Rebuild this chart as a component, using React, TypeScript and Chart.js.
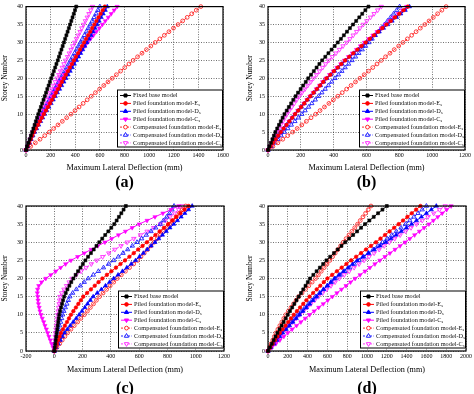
import React, { useEffect, useRef } from 'react';
import { Chart, registerables } from 'chart.js';
import { drawPoint } from 'chart.js/helpers';

Chart.register(...registerables);

const SERIF = "'Liberation Serif', 'Times New Roman', serif";
const X_TITLE = 'Maximum Lateral Deflection (mm)';
const Y_TITLE = 'Storey Number';

const STOREYS = [0,1,2,3,4,5,6,7,8,9,10,11,12,13,14,15,16,17,18,19,20,21,22,23,24,25,26,27,28,29,30,31,32,33,34,35,36,37,38,39,40];

const LABELS = [
  'Fixed base model',
  'Piled foundation model-Eₛ',
  'Piled foundation model-Dₛ',
  'Piled foundation model-Cₛ',
  'Compensated foundation model-Eₛ',
  'Compensated foundation model-Dₛ',
  'Compensated foundation model-Cₛ',
];

// ---- Panel (a)
const A_FIXED = [0,10,20,30,40,50,60,70,80,90,100,110,121,131,142,152,163,173,184,194,205,216,226,237,247,258,268,278,288,298,308,318,328,338,348,358,368,378,388,398,408];
const A_PILED_E = [0,13,26,39,52,65,81,97,113,129,145,162,178,195,211,228,244,260,276,292,308,324,341,357,374,390,406,423,439,456,472,489,505,522,538,555,572,589,606,623,640];
const A_PILED_D = [0,14,28,42,56,70,86,103,119,136,152,169,186,204,221,238,255,273,290,308,325,342,359,376,393,410,427,444,461,478,495,512,528,545,561,578,594,611,627,644,660];
const A_PILED_C = [0,12,25,37,50,62,77,91,106,120,135,150,166,181,197,212,228,243,259,274,290,310,330,350,370,390,412,434,456,478,500,524,548,572,596,620,644,668,692,716,740];
const A_COMP_E = [0,38,76,114,152,190,225,260,295,330,365,398,431,464,497,530,564,598,632,666,700,734,768,802,836,870,906,942,978,1014,1050,1087,1124,1161,1198,1235,1272,1309,1346,1383,1420];
const A_COMP_D = [0,12,24,36,48,60,74,88,102,116,130,145,160,175,190,205,221,236,252,267,283,299,315,330,346,362,378,394,410,426,442,458,474,490,506,522,538,553,569,584,600];
const A_COMP_C = [0,11,22,33,44,55,67,80,92,105,117,130,143,157,170,183,197,211,224,238,252,266,280,294,308,322,337,351,366,380,395,410,424,439,453,468,482,497,511,526,540];

// ---- Panel (b)
const B_FIXED = [0,9,18,27,36,45,56,67,78,89,100,114,127,141,154,168,183,199,214,230,245,262,279,296,313,330,349,368,387,406,425,444,462,481,499,518,537,556,574,593,612];
const B_PILED_E = [0,16,31,47,62,78,95,113,130,148,165,184,202,221,239,258,278,298,317,337,357,380,402,425,447,470,495,520,545,570,595,620,646,671,697,722,748,774,800,826,852];
const B_PILED_D = [0,16,31,47,62,78,96,113,131,148,166,185,204,222,241,260,280,300,320,340,360,383,406,428,451,474,499,524,550,575,600,626,652,678,704,730,756,783,809,836,862];
const B_PILED_C = [0,15,30,46,61,76,93,111,128,146,163,181,200,218,237,255,275,294,314,333,353,375,398,420,443,465,490,514,539,563,588,613,639,664,690,715,741,767,793,819,845];
const B_COMP_E = [0,30,60,90,120,150,178,206,234,262,290,317,344,371,398,425,452,479,506,533,560,586,612,638,664,690,716,743,769,796,822,849,875,902,928,955,981,1007,1033,1059,1085];
const B_COMP_D = [0,20,40,60,80,100,121,142,164,185,206,226,247,267,288,308,328,348,368,388,408,429,450,470,491,512,533,553,574,594,615,634,653,672,691,710,728,747,765,784,802];
const B_COMP_C = [0,10,21,31,42,52,65,77,90,102,115,130,145,160,175,190,207,225,242,260,277,296,314,333,351,370,392,414,435,457,479,499,519,540,560,580,602,624,646,668,690];

// ---- Panel (c)
const C_FIXED = [0,3,7,10,14,17,21,24,28,31,35,41,48,55,62,70,81,93,107,120,135,151,168,185,202,220,239,259,279,298,318,339,360,382,403,424,441,457,474,490,506];
const C_PILED_E = [0,9,19,28,38,47,61,75,90,104,118,135,153,170,188,205,232,259,286,313,340,372,404,436,468,500,531,562,593,624,655,685,715,745,775,805,834,863,892,921,950];
const C_PILED_D = [0,14,28,43,57,71,92,113,134,155,176,196,216,235,255,275,304,333,362,391,420,451,482,513,544,575,602,630,657,685,712,739,765,792,818,845,871,897,923,949,975];
const C_PILED_C = [0,-9,-19,-28,-38,-47,-56,-66,-75,-85,-94,-101,-107,-112,-115,-117,-120,-118,-110,-90,-60,-25,10,45,80,118,165,212,260,308,358,406,454,503,551,600,656,712,768,824,880];
const C_COMP_E = [0,19,38,56,75,94,118,141,165,188,212,234,255,277,298,320,345,370,395,420,445,474,503,532,561,590,613,636,660,683,706,728,750,772,794,816,839,861,884,906,929];
const C_COMP_D = [0,5,10,14,19,24,31,38,45,52,59,68,78,89,99,110,130,156,184,212,240,276,312,348,384,420,453,486,519,552,585,618,651,684,717,750,772,795,815,832,847];
const C_COMP_C = [0,2,3,5,6,8,11,14,18,21,24,27,30,34,37,40,52,68,86,105,125,155,190,225,262,300,342,385,428,472,515,562,609,656,703,750,785,818,850,879,906];

// ---- Panel (d)
const D_FIXED = [0,19,38,57,76,95,116,137,158,179,200,222,244,266,288,310,333,356,379,402,425,458,491,524,557,590,628,666,704,742,780,820,860,900,940,980,1024,1068,1112,1156,1200];
const D_PILED_E = [0,24,48,72,96,120,148,176,204,232,260,292,324,356,388,420,456,492,528,564,600,648,696,744,792,840,890,940,990,1040,1090,1136,1182,1228,1274,1320,1364,1408,1452,1496,1540];
const D_PILED_D = [0,30,60,90,120,150,184,218,252,286,320,354,388,422,456,490,526,562,598,634,670,716,762,808,854,900,958,1016,1074,1132,1190,1242,1294,1346,1398,1450,1500,1550,1600,1650,1700];
const D_PILED_C = [0,40,80,120,160,200,244,288,332,376,420,466,512,558,604,650,696,742,788,834,880,930,980,1030,1080,1130,1181,1232,1283,1334,1385,1433,1481,1529,1577,1625,1670,1715,1760,1805,1850];
const D_COMP_E = [0,16,32,48,64,80,100,120,140,160,180,206,232,258,284,310,344,378,412,446,480,509,538,567,596,625,652,679,706,733,760,789,818,847,876,905,932,959,986,1013,1040];
const D_COMP_D = [0,26,52,78,104,130,164,198,232,266,300,336,372,408,444,480,520,560,600,640,680,728,776,824,872,920,967,1014,1062,1109,1156,1203,1250,1296,1343,1390,1432,1474,1516,1558,1600];
const D_COMP_C = [0,28,56,84,112,140,176,212,248,284,320,358,396,434,472,510,552,594,636,678,720,770,820,870,920,970,1021,1072,1123,1174,1225,1280,1335,1390,1445,1500,1558,1616,1674,1732,1790];

const STYLES = [
  { color: '#000000', point: 'rect', rot: 0, filled: true, dash: [], r: 2.1 },
  { color: '#ff0000', point: 'circle', rot: 0, filled: true, dash: [], r: 1.8 },
  { color: '#0000ff', point: 'triangle', rot: 0, filled: true, dash: [], r: 2.4 },
  { color: '#ff00ff', point: 'triangle', rot: 180, filled: true, dash: [], r: 2.4 },
  { color: '#ff2a2a', point: 'circle', rot: 0, filled: false, dash: [3, 2], r: 1.9 },
  { color: '#1f1fff', point: 'triangle', rot: 0, filled: false, dash: [3, 2], r: 2.5 },
  { color: '#ff33ff', point: 'triangle', rot: 180, filled: false, dash: [3, 2], r: 2.5 },
];

const PANELS = [
  { tag: '(a)', left: 0, top: 0, xMin: 0, xMax: 1600, yW: 26, padR: 14, padT: 4, xH: 47, titlePadB: 24, yTitlePad: 0.5, tagY: 182,
    series: [A_FIXED, A_PILED_E, A_PILED_D, A_PILED_C, A_COMP_E, A_COMP_D, A_COMP_C] },
  { tag: '(b)', left: 237, top: 0, xMin: 0, xMax: 1200, yW: 31, padR: 9, padT: 4, xH: 47, titlePadB: 24, yTitlePad: 8.5, tagY: 182,
    series: [B_FIXED, B_PILED_E, B_PILED_D, B_PILED_C, B_COMP_E, B_COMP_D, B_COMP_C] },
  { tag: '(c)', left: 0, top: 197, xMin: -200, xMax: 1200, yW: 26, padR: 13, padT: 9, xH: 43, titlePadB: 19, yTitlePad: 0.5, tagY: 190.5,
    series: [C_FIXED, C_PILED_E, C_PILED_D, C_PILED_C, C_COMP_E, C_COMP_D, C_COMP_C] },
  { tag: '(d)', left: 237, top: 197, xMin: 0, xMax: 2000, yW: 31, padR: 8, padT: 9, xH: 43, titlePadB: 19, yTitlePad: 8.5, tagY: 190.5,
    series: [D_FIXED, D_PILED_E, D_PILED_D, D_PILED_C, D_COMP_E, D_COMP_D, D_COMP_C] },
];

const W = 237;
const H = 197;

const frameAndLegend = {
  id: 'frameAndLegend',
  afterDraw(chart: any) {
    const { ctx, chartArea } = chart;
    ctx.save();
    // plot frame
    ctx.strokeStyle = '#000';
    ctx.lineWidth = 1.2;
    ctx.setLineDash([]);
    ctx.strokeRect(chartArea.left, chartArea.top, chartArea.right - chartArea.left, chartArea.bottom - chartArea.top);

    // legend box
    const bw = 106;
    const bh = 58;
    const x0 = chartArea.right - bw;
    const y0 = chartArea.bottom - 2.5 - bh;
    ctx.fillStyle = '#ffffff';
    ctx.fillRect(x0, y0, bw, bh);
    ctx.strokeStyle = '#000';
    ctx.lineWidth = 1;
    ctx.strokeRect(x0 + 0.5, y0 + 0.5, bw - 1, bh - 1);

    chart.data.datasets.forEach((ds: any, i: number) => {
      const st = STYLES[i];
      const cy = y0 + 6 + i * 7.9;
      ctx.strokeStyle = st.color;
      ctx.lineWidth = 1;
      ctx.setLineDash(st.dash.length ? [2, 1.5] : []);
      ctx.beginPath();
      ctx.moveTo(x0 + 3, cy);
      ctx.lineTo(x0 + 14, cy);
      ctx.stroke();
      ctx.setLineDash([]);
      ctx.fillStyle = st.filled ? st.color : '#ffffff';
      ctx.strokeStyle = st.color;
      drawPoint(ctx, { pointStyle: st.point, rotation: st.rot, radius: st.r, borderWidth: st.filled ? 0.6 : 0.9 }, x0 + 8.5, cy);

      const label: string = ds.label;
      const hasSub = label.endsWith('ₛ');
      const main = hasSub ? label.slice(0, -1) : label;
      ctx.fillStyle = '#111';
      ctx.textBaseline = 'middle';
      ctx.textAlign = 'left';
      ctx.font = `6.3px ${SERIF}`;
      const tx = x0 + 16;
      ctx.fillText(main, tx, cy + 0.3);
      if (hasSub) {
        const mw = ctx.measureText(main).width;
        ctx.font = `4.3px ${SERIF}`;
        ctx.fillText('s', tx + mw + 0.2, cy + 1.8);
      }
    });
    ctx.restore();
  },
};

function Panel({ p }: { p: any }) {
  const ref = useRef<HTMLCanvasElement | null>(null);
  useEffect(() => {
    if (!ref.current) return;
    const datasets = p.series.map((vals: number[], i: number) => {
      const st = STYLES[i];
      return {
        label: LABELS[i],
        data: STOREYS.map((s, k) => ({ x: vals[k], y: s })),
        showLine: true,
        borderColor: st.color,
        borderWidth: 1,
        borderDash: st.dash,
        pointStyle: st.point,
        rotation: st.rot,
        pointRadius: st.r,
        pointBorderWidth: st.filled ? 0.6 : 0.9,
        pointBorderColor: st.color,
        pointBackgroundColor: st.filled ? st.color : 'rgba(255,255,255,0)',
        backgroundColor: st.color,
        clip: false,
        order: i,
      };
    });
    const chart = new Chart(ref.current, {
      type: 'scatter',
      data: { datasets },
      options: {
        animation: false,
        responsive: false,
        devicePixelRatio: 1,
        events: [],
        layout: { padding: { left: 0, right: p.padR, top: p.padT, bottom: 0 } },
        plugins: { legend: { display: false }, tooltip: { enabled: false } },
        scales: {
          x: {
            type: 'linear',
            min: p.xMin,
            max: p.xMax,
            afterFit: (s: any) => { s.height = p.xH; },
            ticks: { stepSize: 200, autoSkip: false, maxRotation: 0, padding: 2, color: '#000', font: { family: SERIF, size: 6 },
              callback: (v: any) => String(v) },
            grid: { color: 'rgba(0,0,0,0.7)', lineWidth: 0.8, drawTicks: false },
            border: { display: false, dash: [1, 1.5] },
            title: { display: true, text: X_TITLE, color: '#000', font: { family: SERIF, size: 8.2 }, padding: { top: 0, bottom: p.titlePadB } },
          },
          y: {
            type: 'linear',
            min: 0,
            max: 40,
            afterFit: (s: any) => { s.width = p.yW; },
            ticks: { stepSize: 5, padding: 3, color: '#000', font: { family: SERIF, size: 6 }, callback: (v: any) => String(v) },
            grid: { color: 'rgba(0,0,0,0.7)', lineWidth: 0.8, drawTicks: false },
            border: { display: false, dash: [1, 1.5] },
            title: { display: true, text: Y_TITLE, color: '#000', font: { family: SERIF, size: 7.5 }, padding: { top: p.yTitlePad, bottom: 0 } },
          },
        },
      } as any,
      plugins: [frameAndLegend],
    });
    return () => chart.destroy();
  }, []);

  const centerX = p.left + (p.yW + (W - p.padR)) / 2;
  return (
    <>
      <canvas ref={ref} width={W} height={H} style={{ position: 'absolute', left: p.left, top: p.top, width: W, height: H }} />
      <div style={{ position: 'absolute', left: centerX - 30, top: p.top + p.tagY - 9, width: 60, height: 18, lineHeight: '18px', textAlign: 'center', fontFamily: SERIF, fontWeight: 'bold', fontSize: 16, color: '#000' }}>
        {p.tag}
      </div>
    </>
  );
}

export default function App() {
  return (
    <div style={{ position: 'absolute', left: 0, top: 0, width: 474, height: 394, background: '#fff', overflow: 'hidden' }}>
      {PANELS.map((p) => <Panel key={p.tag} p={p} />)}
    </div>
  );
}
